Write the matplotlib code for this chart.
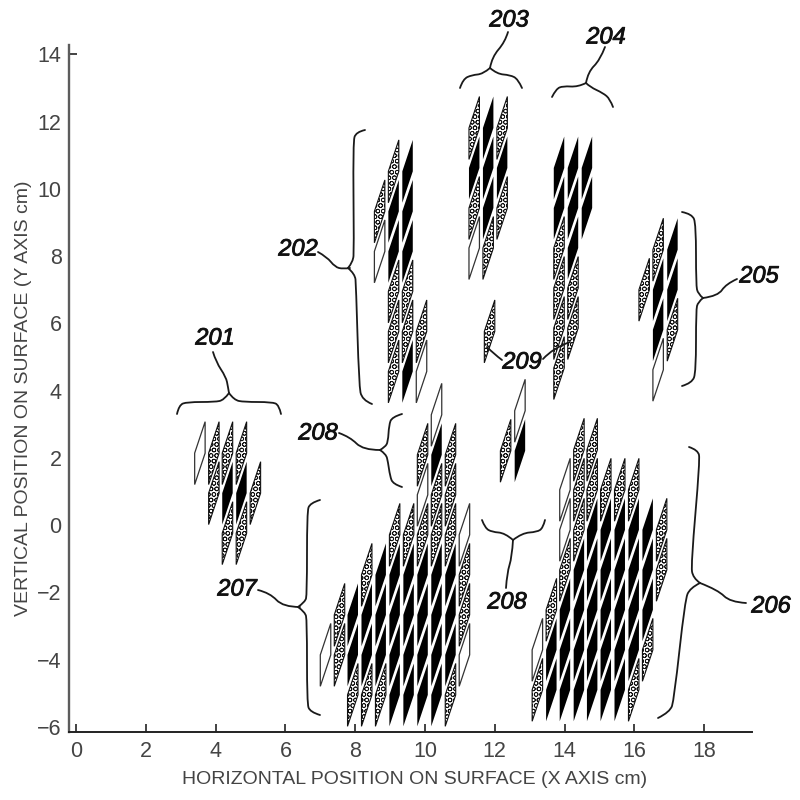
import matplotlib
matplotlib.use("Agg")
import matplotlib.pyplot as plt
import matplotlib.patheffects as pe
from matplotlib.patches import Polygon, PathPatch
from matplotlib.path import Path
from matplotlib.transforms import Affine2D

# ---------- data: tile top-tip positions (cm) and per-row kinds ----------
# w = blank, s = stippled, b = black, . = no tile
c201_x = [3.70, 4.10, 4.49, 4.89, 5.29]
c201_y = [3.08, 1.89, 0.70]
c201_k = ["wsss.", ".sbbs", "..ss."]

c202_x = [8.85, 9.25, 9.65, 10.05]
c202_y = [11.46, 10.27, 9.08, 7.89, 6.70, 5.51]
c202_k = [".sb.", "sbb.", "wbb.", ".ss.", ".sss", ".sbw"]

c203_x = [11.56, 11.96, 12.36]
c203_y = [12.75, 11.56, 10.37, 9.18]
c203_k = ["sbs", "bbb", "sbs", "ws."]

c204_x = [13.99, 14.39, 14.79]
c204_y = [11.56, 10.37, 9.18, 7.99, 6.80, 5.61]
c204_k = ["bbb", "bbb", "sb.", "ss.", "ss.", "s.."]

c205_x = [16.43, 16.83, 17.24]
c205_y = [9.13, 7.94, 6.75, 5.56]
c205_k = [".sb", "sbb", ".bs", ".w."]

c209_x = [12.00]
c209_y = [6.70]
c209_k = ["s"]

c208_x = [12.46, 12.87]
c208_y = [4.34, 3.15]
c208_k = [".w", "sb"]

c207_x = [7.30, 7.70, 8.08, 8.48, 8.88, 9.28, 9.68, 10.08, 10.48, 10.88, 11.28]
c207_y = [4.22, 3.03, 1.84, 0.65, -0.54, -1.73, -2.92, -4.11]
c207_k = ["........w..",
          ".......sbs.",
          ".......wss.",
          ".....sssssw",
          "...sbbbbbbs",
          ".sbbbbbbbbs",
          "wsbbbbbbbbw",
          "..sssbbbbs."]

c206_x = [13.37, 13.77, 14.16, 14.56, 14.94, 15.33, 15.73, 16.13, 16.53, 16.93]
c206_y = [3.18, 1.99, 0.80, -0.39, -1.58, -2.77, -3.96]
c206_k = ["...ss.....",
          "..wsssss..",
          "..wsbbbbbs",
          "..sbbbbbbs",
          ".sbbbbbbb.",
          "wbbbbbbbs.",
          "sbbbbbbs.."]

clusters = [(c201_x, c201_y, c201_k), (c202_x, c202_y, c202_k),
            (c203_x, c203_y, c203_k), (c204_x, c204_y, c204_k),
            (c205_x, c205_y, c205_k), (c209_x, c209_y, c209_k),
            (c208_x, c208_y, c208_k), (c207_x, c207_y, c207_k),
            (c206_x, c206_y, c206_k)]

x_ticks = [0, 2, 4, 6, 8, 10, 12, 14, 16, 18]
y_ticks = [14, 12, 10, 8, 6, 4, 2, 0, -2, -4, -6]
x_label = "HORIZONTAL POSITION ON SURFACE (X AXIS cm)"
y_label = "VERTICAL POSITION ON SURFACE (Y AXIS cm)"

# callout text: (label, pixel x, pixel y)
callouts = [("201", 215, 338), ("202", 298, 249), ("203", 509, 20),
            ("204", 606, 37), ("205", 759, 276), ("206", 771, 606),
            ("207", 237, 589), ("208", 318, 433), ("208", 507, 602),
            ("209", 522, 362)]

# brace / leader polylines in pixels, smoothed when drawn
braces = [
    [(177,414),(179,405),(187,402),(215,402),(224,400),(229,393)],
    [(229,393),(234,400),(244,402),(272,402),(279,405),(281,414)],
    [(213,352),(216,362),(226,377),(228,387),(229,393)],
    [(318,252),(327,257),(335,267),(343,269),(350,268)],
    [(365,130),(356,132),(353,142),(354,250),(353,262),(348,268)],
    [(348,268),(355,274),(356,285),(359,385),(362,400),(372,404)],
    [(460,88),(463,79),(472,75),(483,74),(490,68)],
    [(490,68),(497,74),(510,75),(518,79),(522,88)],
    [(508,32),(505,42),(492,57),(490,68)],
    [(552,97),(556,89),(563,86),(578,87),(586,83)],
    [(586,83),(590,87),(603,93),(610,99),(613,107)],
    [(605,47),(600,60),(588,72),(586,83)],
    [(682,212),(692,214),(696,224),(696,285),(698,294),(703,298)],
    [(703,298),(698,302),(696,310),(696,372),(692,383),(682,386)],
    [(703,298),(718,296),(726,284),(737,279)],
    [(689,447),(698,450),(700,460),(691,565),(693,578),(700,583)],
    [(700,583),(690,588),(685,600),(674,700),(670,712),(658,718)],
    [(700,583),(718,590),(730,602),(746,603)],
    [(258,590),(270,593),(283,607),(300,607)],
    [(320,500),(310,503),(307,512),(307,595),(305,602),(298,607)],
    [(298,607),(305,612),(307,620),(307,703),(310,712),(320,715)],
    [(402,414),(392,417),(389,425),(388,442),(385,447),(380,450)],
    [(380,450),(386,454),(388,462),(390,476),(393,484),(402,487)],
    [(339,433),(350,437),(363,450),(380,450)],
    [(482,520),(485,528),(492,532),(505,533),(513,540)],
    [(513,540),(522,533),(537,532),(543,528),(545,520)],
    [(513,540),(512,557),(507,573),(506,588)],
    [(487,347),(494,354),(502,360)],
    [(543,359),(553,348),(570,342)],
]

# ---------- figure ----------
plt.rcParams["hatch.linewidth"] = 0.55
plt.rcParams["font.family"] = ["Liberation Sans", "DejaVu Sans"]
fig = plt.figure(figsize=(8, 8), dpi=100)
L, R, T, B = 68.5, 752, 45, 731.7
ax = fig.add_axes([L/800, 1-B/800, (R-L)/800, (B-T)/800])
sx, sy = 34.9, 33.625
ax.set_xlim((L-76)/sx, (R-76)/sx)
ax.set_ylim((727-B)/sy-6, (727-T)/sy-6)

for s in ("top", "right"):
    ax.spines[s].set_visible(False)
ax.spines["left"].set_color("#5c5c5c")
ax.spines["left"].set_linewidth(1.7)
ax.spines["bottom"].set_color("#222222")
ax.spines["bottom"].set_linewidth(1.4)

ax.set_xticks(x_ticks)
ax.set_yticks(y_ticks)
ax.set_yticklabels([str(v).replace("-", "\u2212") for v in y_ticks])
ax.tick_params(axis="x", direction="in", length=6, width=1.2, pad=7,
               labelsize=15.5, labelcolor="#444444", color="#222222")
ax.tick_params(axis="y", direction="in", length=6, width=1.2, pad=5,
               labelsize=15.5, labelcolor="#444444", color="#222222")
for v, t in zip(y_ticks, ax.yaxis.get_major_ticks()):
    if v != 14:
        t.tick1line.set_visible(False)

ax.set_xlabel(x_label, fontsize=14, color="#444444")
ax.xaxis.set_label_coords((415-L)/(R-L), -(779-B)/(B-T), transform=ax.transAxes)
ax.xaxis.label.set_va("center")
ax.set_ylabel(y_label, fontsize=14, color="#444444")
ax.yaxis.set_label_coords((24-L)/(R-L), (B-398)/(B-T), transform=ax.transAxes)
ax.yaxis.label.set_va("center")

# tiles: sheared parallelograms hanging from their top tip
TW, TH = 0.30, 1.87
def tile(x, y, kind):
    pts = [(x, y), (x-TW, y-TH/2), (x-TW, y-TH), (x, y-TH/2)]
    if kind == "b":
        ax.add_patch(Polygon(pts, closed=True, fc="black", ec="none", zorder=5))
    elif kind == "s":
        ax.add_patch(Polygon(pts, closed=True, fc="white", ec="#111111", lw=0.8,
                             hatch="OOO", zorder=4))
    else:
        ax.add_patch(Polygon(pts, closed=True, fc="white", ec="#333333", lw=0.9, zorder=3))

for xs, ys, rows in clusters:
    for y, row in zip(ys, rows):
        for x, k in zip(xs, row):
            if k != ".":
                tile(x, y, k)

# annotations drawn in image pixel coordinates
px = Affine2D().scale(1/800, -1/800).translate(0, 1) + fig.transFigure
def smooth(pts):
    verts, codes = [pts[0]], [Path.MOVETO]
    for i in range(1, len(pts)-1):
        mid = ((pts[i][0]+pts[i+1][0])/2, (pts[i][1]+pts[i+1][1])/2)
        if i == len(pts)-2:
            mid = pts[i+1]
        verts += [pts[i], mid]
        codes += [Path.CURVE3, Path.CURVE3]
    return Path(verts, codes)

for b in braces:
    fig.add_artist(PathPatch(smooth(b), fc="none", ec="#1a1a1a", lw=1.3,
                             transform=px, capstyle="round"))
for label, x, y in callouts:
    fig.text(x/800, 1-y/800, label, style="italic", fontsize=17, color="#111111",
             ha="center", va="center",
             path_effects=[pe.withStroke(linewidth=0.6, foreground="#111111")])

fig.savefig("out.png", dpi=100)
